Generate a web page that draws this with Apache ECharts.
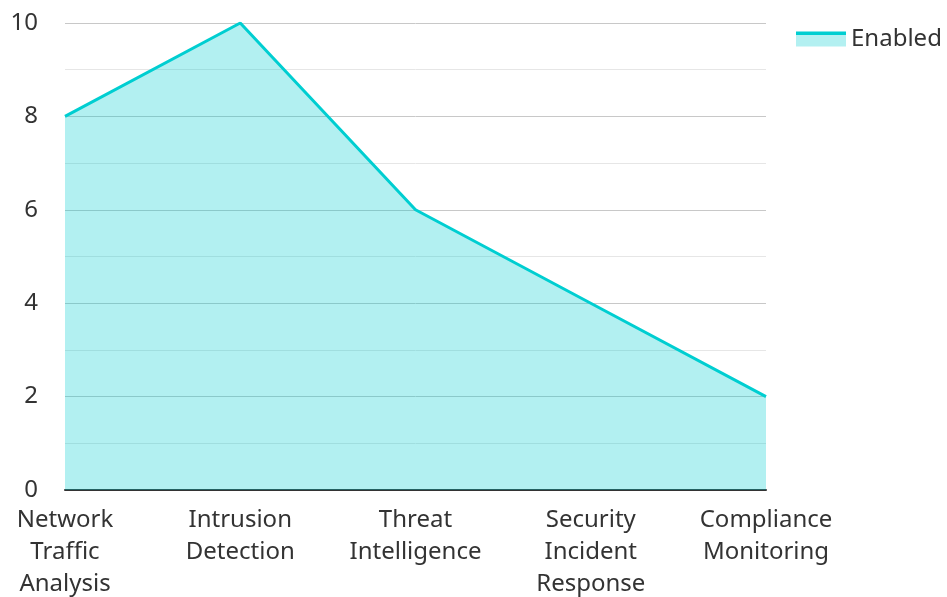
<!DOCTYPE html>
<html><head><meta charset="utf-8">
<script src="https://cdn.jsdelivr.net/npm/echarts@6/dist/echarts.min.js"></script>
<style>html,body{margin:0;padding:0;background:#fff}#c{width:947px;height:597px}</style>
</head><body><div id="c"></div>
<script>
const categories = ['Network\nTraffic\nAnalysis', 'Intrusion\nDetection', 'Threat\nIntelligence', 'Security\nIncident\nResponse', 'Compliance\nMonitoring'];
const enabledValues = [8, 10, 6, 4, 2];
const seriesName = 'Enabled';

const chart = echarts.init(document.getElementById('c'), null, {renderer: 'canvas'});
const font = 'Noto Sans';
chart.setOption({
  animation: false,
  textStyle: {fontFamily: font},
  grid: {left: 65, right: 181, top: 23, bottom: 107, containLabel: false, outerBoundsMode: 'none'},
  legend: {
    data: [seriesName],
    left: 791, top: 22,
    icon: 'rect',
    itemWidth: 50, itemHeight: 15, itemGap: 10,
    textStyle: {fontSize: 24, color: '#333', fontFamily: font},
    itemStyle: {
      color: {type: 'linear', x: 0, y: 0, x2: 0, y2: 1, colorStops: [
        {offset: 0, color: '#00CED1'}, {offset: 0.24, color: '#00CED1'},
        {offset: 0.24, color: '#b3f0f1'}, {offset: 1, color: '#b3f0f1'}]},
      borderWidth: 0
    },
    lineStyle: {width: 0, opacity: 0}
  },
  xAxis: {
    type: 'category', data: categories, boundaryGap: false,
    axisLine: {show: true, lineStyle: {color: '#333', width: 2}},
    axisTick: {show: false},
    axisLabel: {fontSize: 24, color: '#333', lineHeight: 32, margin: 14, interval: 0, fontFamily: font},
    splitLine: {show: false}
  },
  yAxis: {
    type: 'value', min: 0, max: 10, interval: 2,
    axisLine: {show: false}, axisTick: {show: false},
    axisLabel: {fontSize: 24, color: '#333', margin: 27, padding: [3, 0, 0, 0], fontFamily: font},
    splitLine: {show: true, lineStyle: {color: '#c8c8c8', width: 1}},
    minorTick: {show: false, splitNumber: 2},
    minorSplitLine: {show: true, lineStyle: {color: '#e6e6e6', width: 1}}
  },
  series: [{
    name: seriesName, type: 'line', data: enabledValues,
    showSymbol: false, symbol: 'none',
    lineStyle: {color: '#00CED1', width: 3},
    itemStyle: {color: '#00CED1'},
    areaStyle: {color: '#00CED1', opacity: 0.3}
  }]
});
</script></body></html>
